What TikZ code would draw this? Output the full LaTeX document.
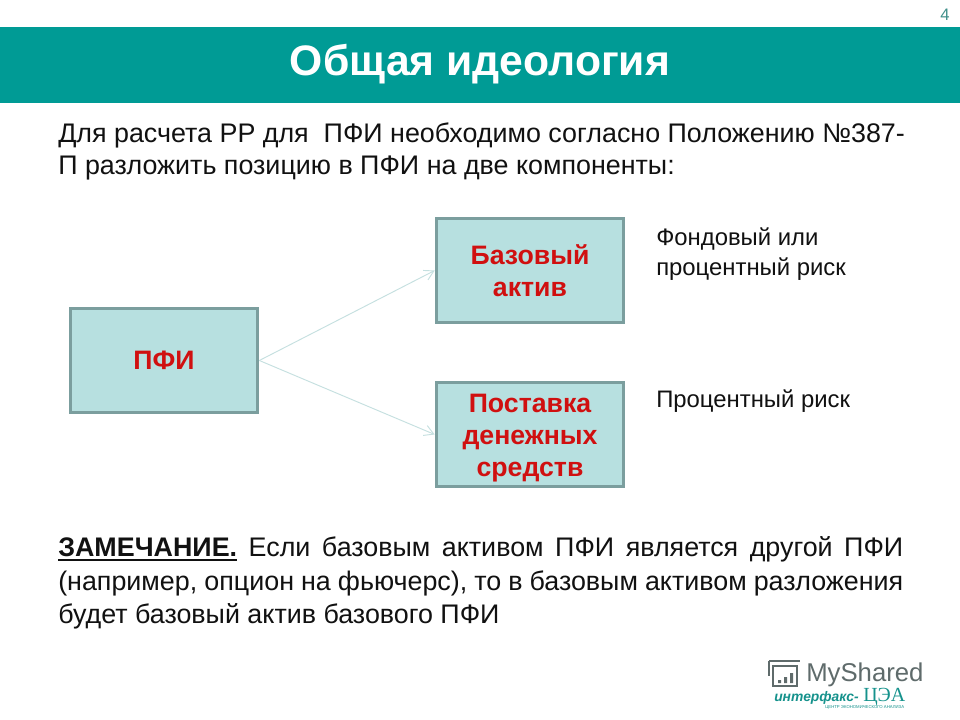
\documentclass[tikz,border=0pt]{standalone}
\usepackage{fontspec}
\setmainfont{Liberation Sans}
\newfontfamily\wmserif{Liberation Serif}
\usetikzlibrary{arrows.meta}
\definecolor{bandc}{HTML}{009B95}
\definecolor{boxfill}{HTML}{B7E0E0}
\definecolor{boxline}{HTML}{7B9E9E}
\definecolor{redtxt}{HTML}{D01010}
\definecolor{linkc}{HTML}{C5E0E0}
\definecolor{bodytxt}{HTML}{111111}
\definecolor{numtxt}{HTML}{3F8F8A}
\definecolor{wmgrey}{HTML}{5F6B6B}
\definecolor{wmteal}{HTML}{15928C}
\tikzset{
  x=0.75pt,y=-0.75pt,
  flowbox/.style={draw=boxline,line width=2.4pt,fill=boxfill,minimum width=140.6pt,minimum height=78pt,inner sep=0pt,align=center,text=redtxt,font=\fontsize{20}{24}\selectfont\bfseries},
  bodyline/.style={anchor=base west,inner sep=0pt,text=bodytxt,font=\fontsize{20.15}{24}\selectfont},
  sideline/.style={anchor=base west,inner sep=0pt,text=bodytxt,font=\fontsize{17.9}{21}\selectfont},
  link/.style={draw=linkc,line width=0.7pt,-{Straight Barb[length=7pt,width=8pt]}},
}
\begin{document}
\begin{tikzpicture}
\useasboundingbox (0,0) rectangle (960,720);
\fill[white] (0,0) rectangle (960,720);
\fill[bandc] (0,27) rectangle (960,103);
\node[anchor=base,inner sep=0pt,text=white,font=\fontsize{32}{36}\selectfont\bfseries] (title) at (480,76) {Общая идеология};
\node[anchor=base,inner sep=0pt,text=numtxt,font=\fontsize{12.5}{14}\selectfont] (num) at (945,21) {4};

\node[bodyline] (l1) at (58,143) {Для расчета РР для\ \ ПФИ необходимо согласно Положению №387-};
\node[bodyline] (l2) at (58,175) {П разложить позицию в ПФИ на две компоненты:};

\node[flowbox] (pfi) at (164,360.5) {ПФИ};
\node[flowbox] (base) at (530,270.5) {Базовый\\актив};
\node[flowbox] (cash) at (530,434.5) {\rule{0pt}{19pt}Поставка\\денежных\\средств};
\draw[link] (pfi.east) -- (base.west);
\draw[link] (pfi.east) -- (cash.west);

\node[sideline] (s1) at (656,246) {Фондовый или};
\node[sideline] (s2) at (656,276) {процентный риск};
\node[sideline] (s3) at (656,407) {Процентный риск};

\node[bodyline] (n1) at (58,556) {\makebox[633.75pt][s]{\textbf{ЗАМЕЧАНИЕ.} Если базовым активом ПФИ является другой ПФИ}};
\node[bodyline] (n2) at (58,590) {\makebox[633.75pt][s]{(например, опцион на фьючерс), то в базовым активом разложения}};
\node[bodyline] (n3) at (58,623) {будет базовый актив базового ПФИ};
\coordinate (ua) at (58,559.5);
\coordinate (ub) at (237,559.5);
\draw[bodytxt,line width=1.5pt] (ua) -- (ub);

% watermark logo
\begin{scope}[draw=wmgrey,line width=1.3pt]
\draw (773,666) rectangle (797,686);
\draw (769,661) -- (800,661) (769,661) -- (769,676);
\fill[wmgrey] (778,680) rectangle (781,683) (784,677) rectangle (787,683) (790,673) rectangle (793,683);
\end{scope}
\node[anchor=base west,inner sep=0pt,text=wmgrey,font=\fontsize{19.3}{22}\selectfont] (wm) at (806,681) {MyShared};
\node[anchor=base west,inner sep=0pt,text=wmteal,font=\fontsize{10.4}{12}\selectfont\bfseries\itshape] (ifx) at (774,701) {интерфакс-};
\node[anchor=base west,inner sep=0pt,text=wmteal,font=\fontsize{15}{16}\selectfont\wmserif] (ifx3) at (863,701) {ЦЭА};
\node[anchor=base west,inner sep=0pt,text=wmteal,font=\fontsize{3.2}{4}\selectfont] (ifx2) at (825,708) {ЦЕНТР ЭКОНОМИЧЕСКОГО АНАЛИЗА};
\end{tikzpicture}
\end{document}
